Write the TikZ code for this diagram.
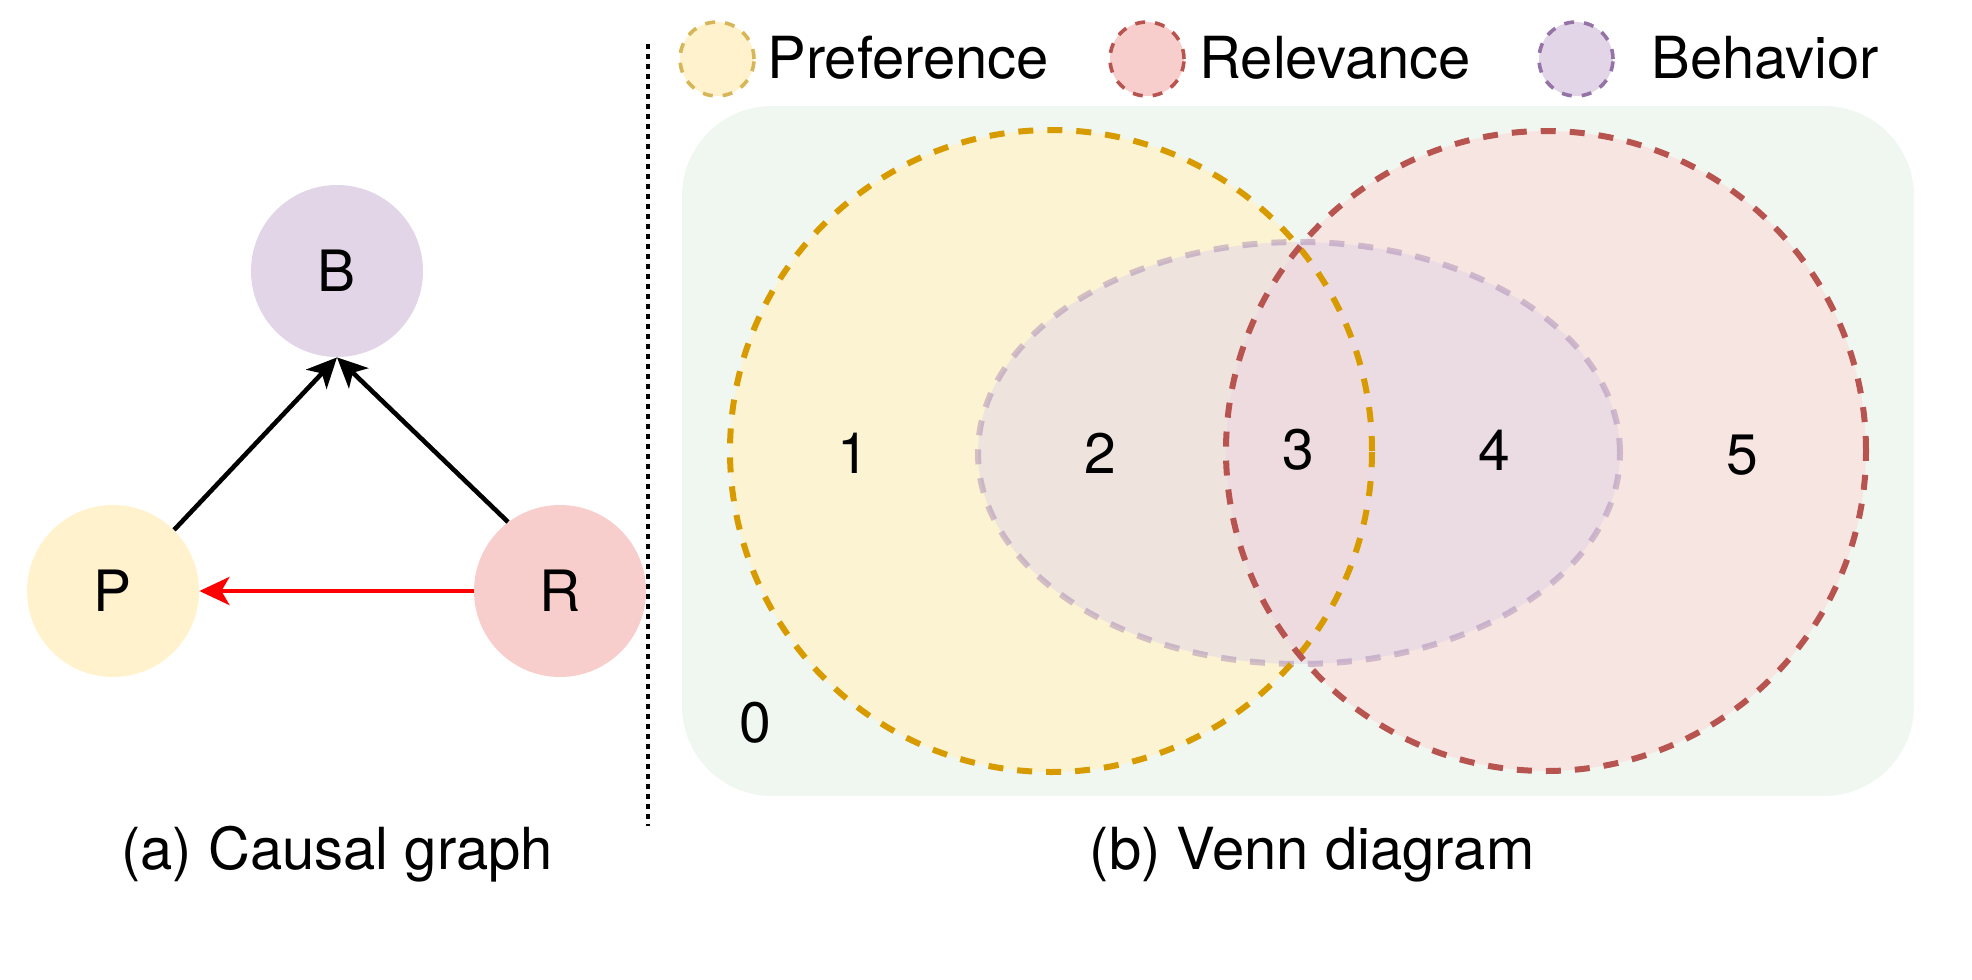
\documentclass[tikz,border=0pt]{standalone}
\usepackage{fontspec}
\setmainfont{TeX Gyre Heros}
\usetikzlibrary{arrows.meta}
\definecolor{prefFill}{HTML}{FFF2CC}
\definecolor{prefStroke}{HTML}{D79B00}
\definecolor{prefLeg}{HTML}{D6B656}
\definecolor{relFill}{HTML}{F8CECC}
\definecolor{relVenn}{HTML}{FDD9DA}
\definecolor{relStroke}{HTML}{B85450}
\definecolor{behFill}{HTML}{E1D5E7}
\definecolor{behStroke}{HTML}{9673A6}
\definecolor{bgGreen}{HTML}{F0F7F0}
\definecolor{arrowRed}{HTML}{FF0000}
\tikzset{
  x=0.5pt, y=-0.5pt,
  bigtext/.style={font=\fontsize{29}{34}\selectfont},
  numtext/.style={font=\fontsize{28.5}{33}\selectfont, inner sep=0pt},
  gnode/.style={circle, minimum size=86pt, inner sep=0pt, draw=none, font=\fontsize{28.5}{33}\selectfont},
  legcircle/.style={circle, minimum size=37pt, inner sep=0pt, line width=1.8pt, dash pattern=on 5pt off 5pt},
  vdash/.style={line width=3pt, dash pattern=on 7.5pt off 7pt},
  arr/.style={line width=2.3pt, -{Stealth[length=15pt, width=14pt, inset=4pt]}},
}
\begin{document}
\begin{tikzpicture}
\useasboundingbox (0,0) rectangle (1972,980);
% ---------- (a) causal graph ----------
\node[gnode, fill=behFill] (B) at (337,271) {B};
\node[gnode, fill=prefFill] (P) at (113,591) {P};
\node[gnode, fill=relFill] (R) at (560,591) {R};
\draw[arr] (P.45) -- (B.south);
\draw[arr] (R.127) -- (B.south);
\draw[arr, arrowRed] (R.west) -- (P.east);
\node[bigtext, anchor=base, inner sep=0pt] (capa) at (337,869) {(a) Causal graph};
% separator
\coordinate (sepTop) at (648,44);
\coordinate (sepBot) at (648,826);
\draw[line width=2.4pt, dash pattern=on 2.4pt off 2.6pt] (sepTop) -- (sepBot);
% ---------- legend ----------
\node[legcircle, fill=prefFill, draw=prefLeg] (lp) at (717,59) {};
\node[bigtext, anchor=base west, inner sep=0pt] (lpt) at (767,78) {Preference};
\node[legcircle, fill=relFill, draw=relStroke] (lr) at (1147,59) {};
\node[bigtext, anchor=base west, inner sep=0pt] (lrt) at (1199,78) {Relevance};
\node[legcircle, fill=behFill, draw=behStroke] (lb) at (1576,59) {};
\node[bigtext, anchor=base west, inner sep=0pt] (lbt) at (1651,78) {Behavior};
% ---------- (b) Venn diagram ----------
\fill[bgGreen, rounded corners=45pt] (682,106) rectangle (1914,796);
\fill[prefFill, fill opacity=0.8] (1051,451) circle[radius=160.5pt];
\fill[relVenn, fill opacity=0.6] (1546,451) circle[radius=160pt];
\fill[behFill, fill opacity=0.5] (1299,453) ellipse[x radius=160.5pt, y radius=105.5pt];
\draw[vdash, behStroke, draw opacity=0.4] (1299,453) ellipse[x radius=160.5pt, y radius=105.5pt];
\draw[vdash, prefStroke] (1051,451) circle[radius=160.5pt];
\draw[vdash, relStroke] (1546,451) circle[radius=160pt];
\node[numtext] (n0) at (755,723) {0};
\node[numtext] (n1) at (853,453) {1};
\node[numtext] (n2) at (1100,453) {2};
\node[numtext] (n3) at (1298,450) {3};
\node[numtext] (n4) at (1494,450) {4};
\node[numtext] (n5) at (1742,455) {5};
\node[bigtext, anchor=base, inner sep=0pt] (capb) at (1312,869) {(b) Venn diagram};
\end{tikzpicture}
\end{document}
